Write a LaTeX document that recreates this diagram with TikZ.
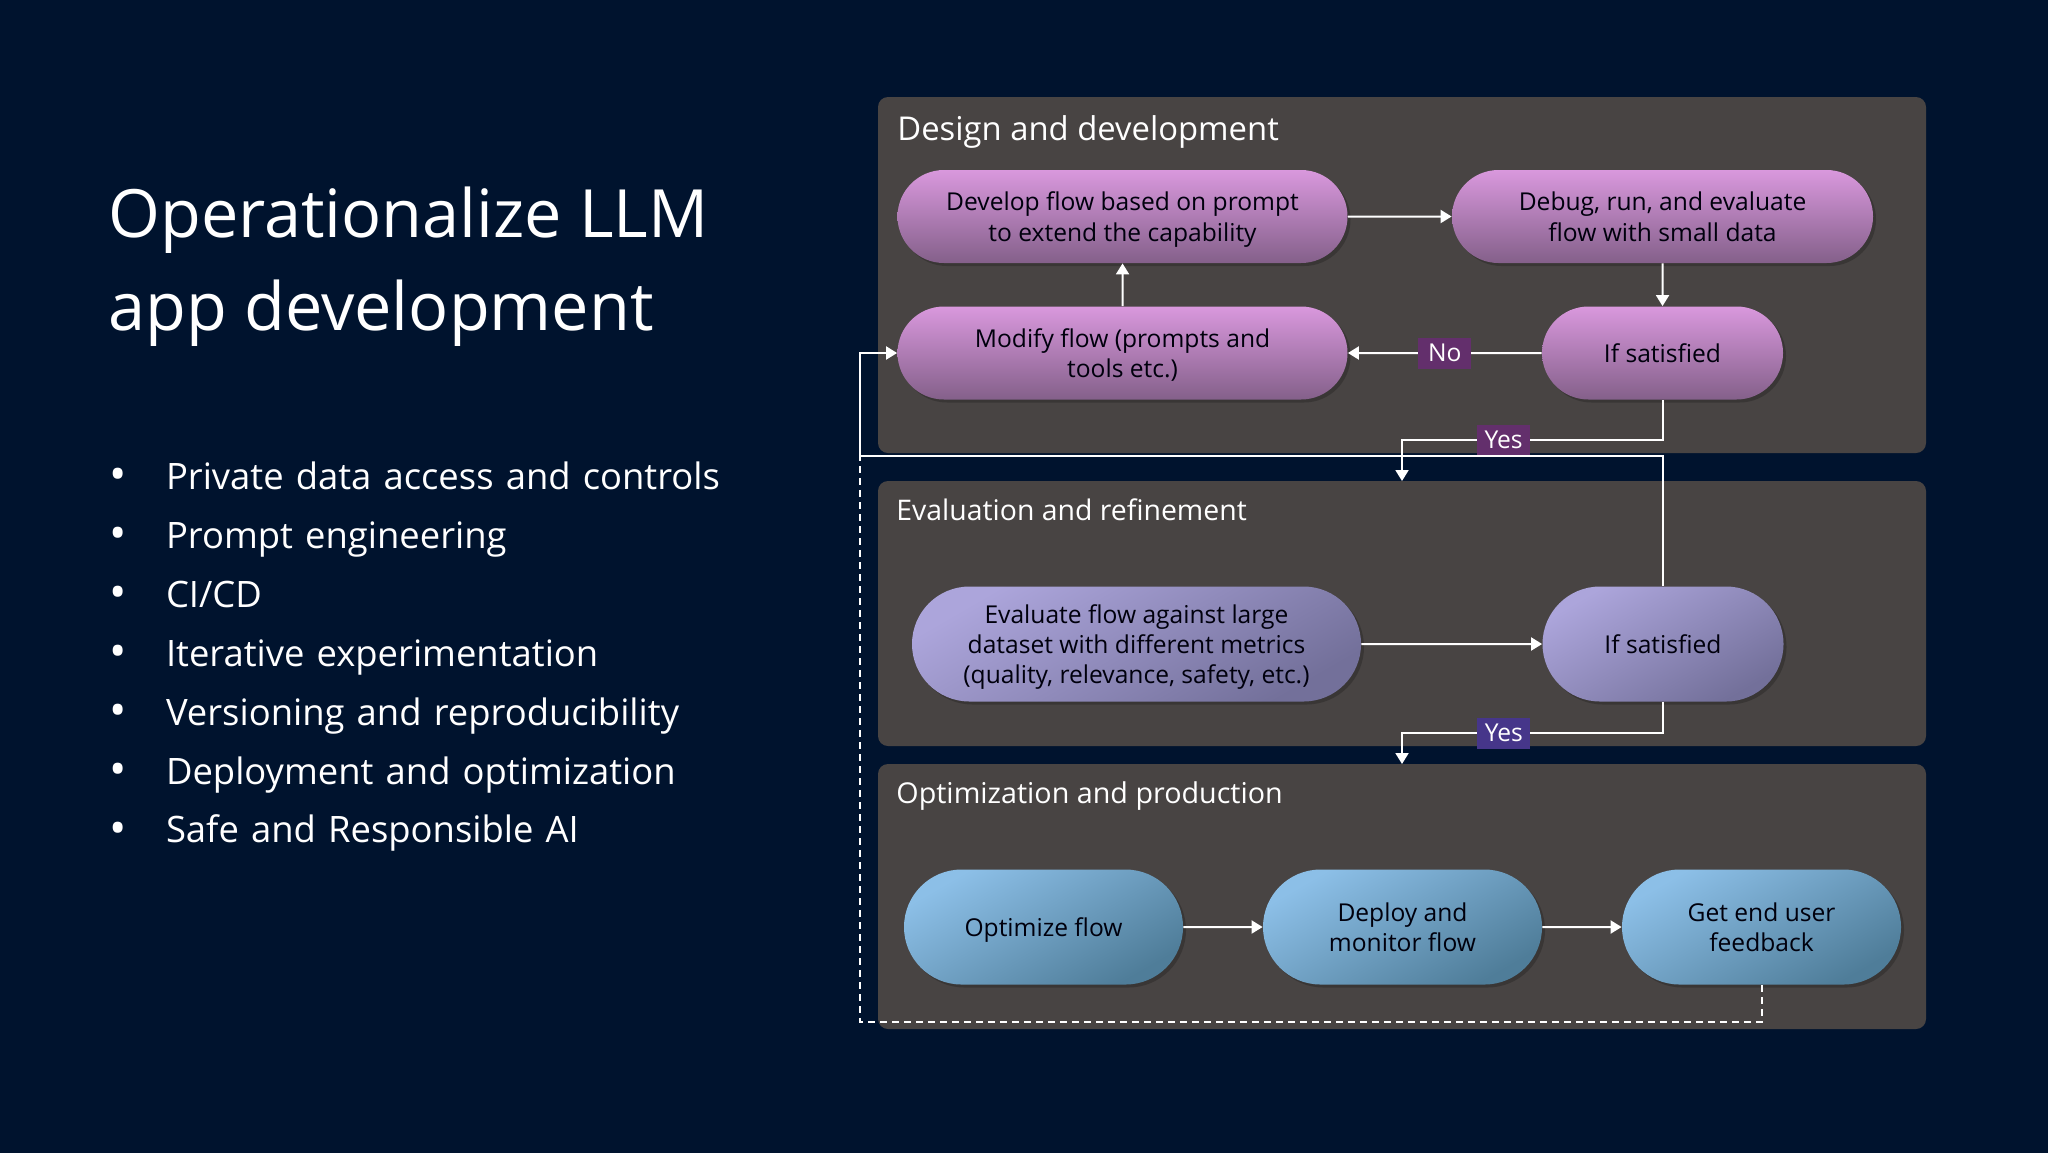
\documentclass[tikz,border=0pt]{standalone}
\usepackage{fontspec}
\setmainfont{Open Sans}
\usetikzlibrary{shapes,shapes.misc,arrows.meta,shadows}
\definecolor{bgnavy}{HTML}{00132E}
\definecolor{panelgrey}{HTML}{484443}
\definecolor{orchid}{HTML}{D998DD}
\definecolor{orchiddark}{HTML}{84608A}
\definecolor{lavlight}{HTML}{ACA5DB}
\definecolor{lavdark}{HTML}{73709A}
\definecolor{skylight}{HTML}{8CBFE7}
\definecolor{skydark}{HTML}{4F7D99}
\definecolor{tagplum}{HTML}{632F6C}
\definecolor{tagindigo}{HTML}{46368A}
\tikzstyle{panel} = [rectangle, fill=panelgrey, rounded corners=5pt, minimum width=524pt, inner sep=0pt]
\tikzstyle{head} = [text=white, anchor=west, inner sep=0pt]
\tikzstyle{pill} = [rounded rectangle, text=black!95!blue, align=center, inner sep=0pt, text depth=-.5pt,
    font=\fontsize{12.3}{15.2}\selectfont,
    drop shadow={shadow xshift=1.5pt,shadow yshift=-1.5pt,fill=black,opacity=.2}]
\tikzstyle{pink} = [pill, top color=orchid, bottom color=orchiddark, minimum width=225pt, minimum height=46.5pt]
\tikzstyle{lav} = [pill, top color=lavlight, bottom color=lavdark, shading angle=30, minimum height=57.5pt]
\tikzstyle{sky} = [pill, top color=skylight, bottom color=skydark, shading angle=30, minimum width=139.5pt, minimum height=57.5pt]
\tikzstyle{flow} = [draw=white, line width=1pt, -{Triangle[length=5.5pt,width=6.5pt]}]
\tikzstyle{back} = [draw=white, line width=1pt, dash pattern=on 3.5pt off 2.5pt]
\tikzstyle{tag} = [text=white, inner sep=0pt, minimum width=26.5pt, minimum height=15.5pt,
    font=\fontsize{12.3}{13}\selectfont]
\tikzstyle{listline} = [text=white, text width=300pt, align=left, inner sep=0pt, text height=14pt, text depth=4pt,
    font=\fontsize{18.2}{22}\selectfont, node distance=29.45pt]
\tikzstyle{dot} = [text=white, font=\fontsize{23}{23}\selectfont, inner sep=0pt, node distance=174pt]

\begin{document}
\begin{tikzpicture}[x=0.5pt, y=-0.5pt, node distance=68.25pt]
    \useasboundingbox (0,0) rectangle (2048,1152);
    \fill [bgnavy] (-10,-10) rectangle (2058,1162);
    % Left column
    \node [text=white, align=left, anchor=west, inner sep=0pt,
        font=\fontsize{33.3}{46.4}\selectfont] (title) at (108,267) {Operationalize LLM\\app development};
    \node [listline] (l1) at (466,479.5) {Private data access and controls};
    \node [listline, below of=l1] (l2) {Prompt engineering};
    \node [listline, below of=l2] (l3) {CI/CD};
    \node [listline, below of=l3] (l4) {Iterative experimentation};
    \node [listline, below of=l4] (l5) {Versioning and reproducibility};
    \node [listline, below of=l5] (l6) {Deployment and optimization};
    \node [listline, below of=l6] (l7) {Safe and Responsible AI};
    \node [dot, left of=l1] (b1) {•};
    \node [dot, left of=l2] (b2) {•};
    \node [dot, left of=l3] (b3) {•};
    \node [dot, left of=l4] (b4) {•};
    \node [dot, left of=l5] (b5) {•};
    \node [dot, left of=l6] (b6) {•};
    \node [dot, left of=l7] (b7) {•};
    % Panels
    \node [panel, minimum height=178pt] (design) at (1402,275) {};
    \node [panel, minimum height=132.5pt] (evalp) at (1402,613.5) {};
    \node [panel, minimum height=132.5pt] (optp) at (1402,896.5) {};
    \node [head, font=\fontsize{16.4}{18}\selectfont] (h1) at (897,132) {Design and development};
    \node [head, font=\fontsize{14.2}{18}\selectfont] (h2) at (896,510) {Evaluation and refinement};
    \node [head, font=\fontsize{14.35}{18}\selectfont] (h3) at (896,796.5) {Optimization and production};
    % Place nodes
    \node [pink] (develop) at (1122.5,216.5) {Develop flow based on prompt\\to extend the capability};
    \node [pink, below of=develop] (modify) {Modify flow (prompts and\\tools etc.)};
    \node [pink, right of=develop, node distance=270pt, minimum width=210.5pt] (debug) {Debug, run, and evaluate\\flow with small data};
    \node [pink, below of=debug, minimum width=120.5pt] (sat1) {If satisfied};
    \node [lav, minimum width=224.5pt] (evaluate) at (1136.5,644) {Evaluate flow against large\\dataset with different metrics\\(quality, relevance, safety, etc.)};
    \node [lav, minimum width=120.5pt] (sat2) at (1663,644) {If satisfied};
    \node [sky] (optimize) at (1043.5,927) {Optimize flow};
    \node [sky, right of=optimize, node distance=179.5pt] (deploy) {Deploy and\\monitor flow};
    \node [sky, right of=deploy, node distance=179.5pt] (feedback) {Get end user\\feedback};
    % Free ends of the connectors
    \coordinate (turna) at (1402,440);
    \coordinate (tipa) at (1402,481);
    \coordinate (turnb) at (1402,733);
    \coordinate (tipb) at (1402,764);
    \coordinate (backup) at (860,456);
    \coordinate (backdown) at (860,1022);
    % Draw edges
    \path [flow] (develop) -- (debug);
    \path [flow] (debug) -- (sat1);
    \path [flow] (modify) -- (develop);
    \path [flow] (sat1) -- node [tag, fill=tagplum] (no) {No} (modify);
    \path [flow] (sat1.south) |- node [tag, fill=tagplum, pos=.805] (yesa) {Yes} (turna) -- (tipa);
    \path [flow] (sat2.north) |- (backup) |- (modify.west);
    \path [flow] (evaluate) -- (sat2);
    \path [flow] (sat2.south) |- node [tag, fill=tagindigo, pos=.805] (yesb) {Yes} (turnb) -- (tipb);
    \path [flow] (optimize) -- (deploy);
    \path [flow] (deploy) -- (feedback);
    \path [back] (feedback.south) |- (backdown) -- (backup);
\end{tikzpicture}
\end{document}
